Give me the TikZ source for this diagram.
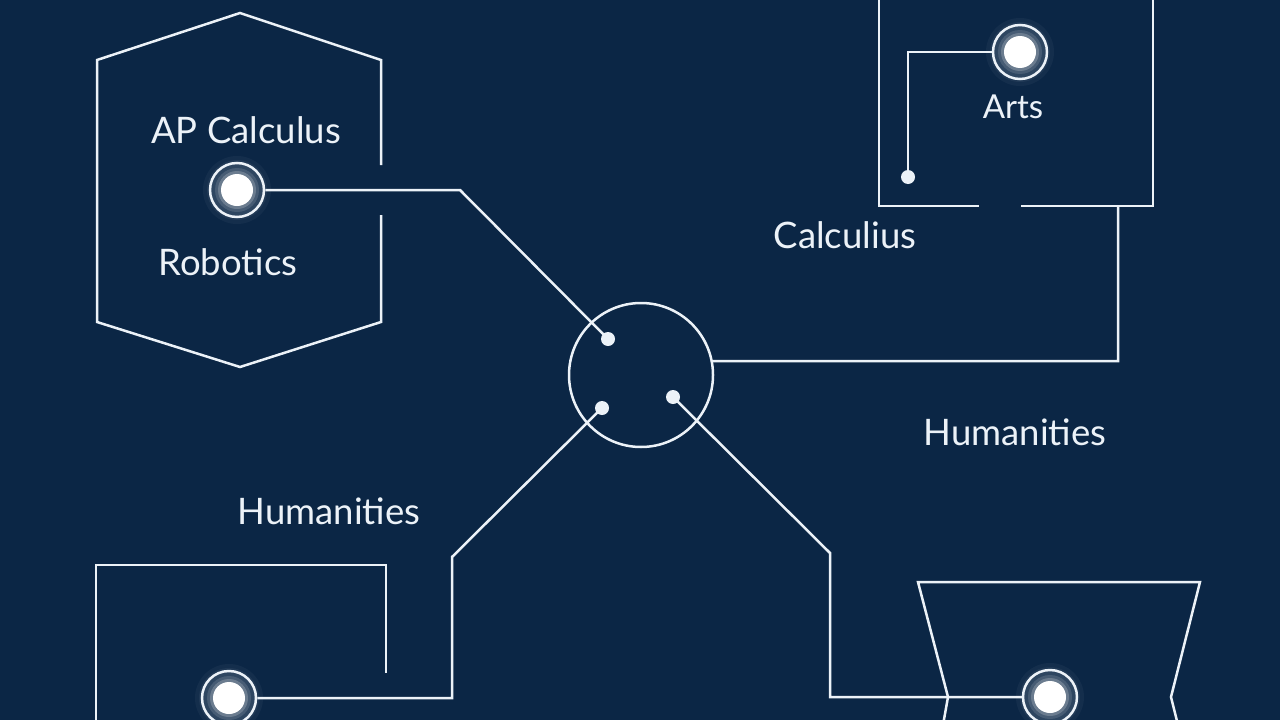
\documentclass[tikz,border=0pt]{standalone}
\usepackage{fontspec}
\setmainfont{Lato}
\definecolor{bg}{RGB}{11,38,69}
\definecolor{ln}{RGB}{236,242,248}
\tikzset{
  wire/.style={draw=ln, line width=2.5pt, line join=miter},
  lbl/.style={text=ln, font=\fontsize{36.5}{40}\selectfont, inner sep=0pt},
  ring/.style={circle, draw=ln, line width=2.5pt, minimum size=54pt, inner sep=0pt},
  pin/.style={circle, fill=ln, minimum size=14pt, inner sep=0pt},
  hubc/.style={circle, draw=ln, line width=2.5pt, minimum size=144pt, inner sep=0pt}
}
\newcommand{\glownode}[2]{%
  \foreach \r/\o in {34/0.04, 30/0.05, 26/0.07, 22/0.12, 19/0.2} {\fill[white, opacity=\o] (#2) circle (\r pt);}
  \node[ring] (#1) at (#2) {};
  \fill[white] (#2) circle (16pt);
}
\begin{document}
\begin{tikzpicture}[x=1pt, y=-1pt]
\useasboundingbox (0,0) rectangle (1280,720);
\fill[bg] (0,0) rectangle (1280,720);

% hexagon
\draw[wire] (381,165) -- (381,60) -- (240,13) -- (97,60) -- (97,322) -- (240,367) -- (381,322) -- (381,215);
\node[lbl] (apcalc) at (246,130) {AP Calculus};
\node[lbl] (robot) at (228,262) {Robotics};
\glownode{ringA}{237,190}

% hub
\node[hubc] (hub) at (641,375) {};
\node[pin] (d1) at (608,339) {};
\node[pin] (d2) at (602,408) {};
\node[pin] (d3) at (673,397) {};

% top-right box
\draw[wire] (1021,206) -- (1153,206) -- (1153,-5);
\draw[wire] (879,-5) -- (879,206) -- (979,206);
\glownode{ringB}{1020,52}
\node[pin] (d4) at (908,177) {};
\node[lbl, font=\fontsize{33}{36}\selectfont] (arts) at (1013,107) {Arts};
\node[lbl] (calc) at (845,235) {Calculius};
\node[lbl] (hum1) at (1015,432) {Humanities};
\node[lbl] (hum2) at (329,511) {Humanities};

% bottom-left box
\draw[wire] (96,725) -- (96,565) -- (386,565) -- (386,673);
\glownode{ringC}{229,698}

% bottom-right trapezoid
\draw[wire] (943,725) -- (948,697) -- (918,582) -- (1200,582) -- (1171,697) -- (1178,725);
\glownode{ringD}{1050,697}

% connectors
\draw[wire] (ringA.east) -- (460,190) -- (d1.center);
\draw[wire] (hub.11) -- (1118,361) -- (1118,206);
\draw[wire] (d4.center) -- (908,52) -- (ringB.west);
\draw[wire] (ringC.east) -- (452,698) -- (452,557) -- (d2.center);
\draw[wire] (d3.center) -- (830,553) -- (830,697) -- (ringD.west);
\end{tikzpicture}
\end{document}
